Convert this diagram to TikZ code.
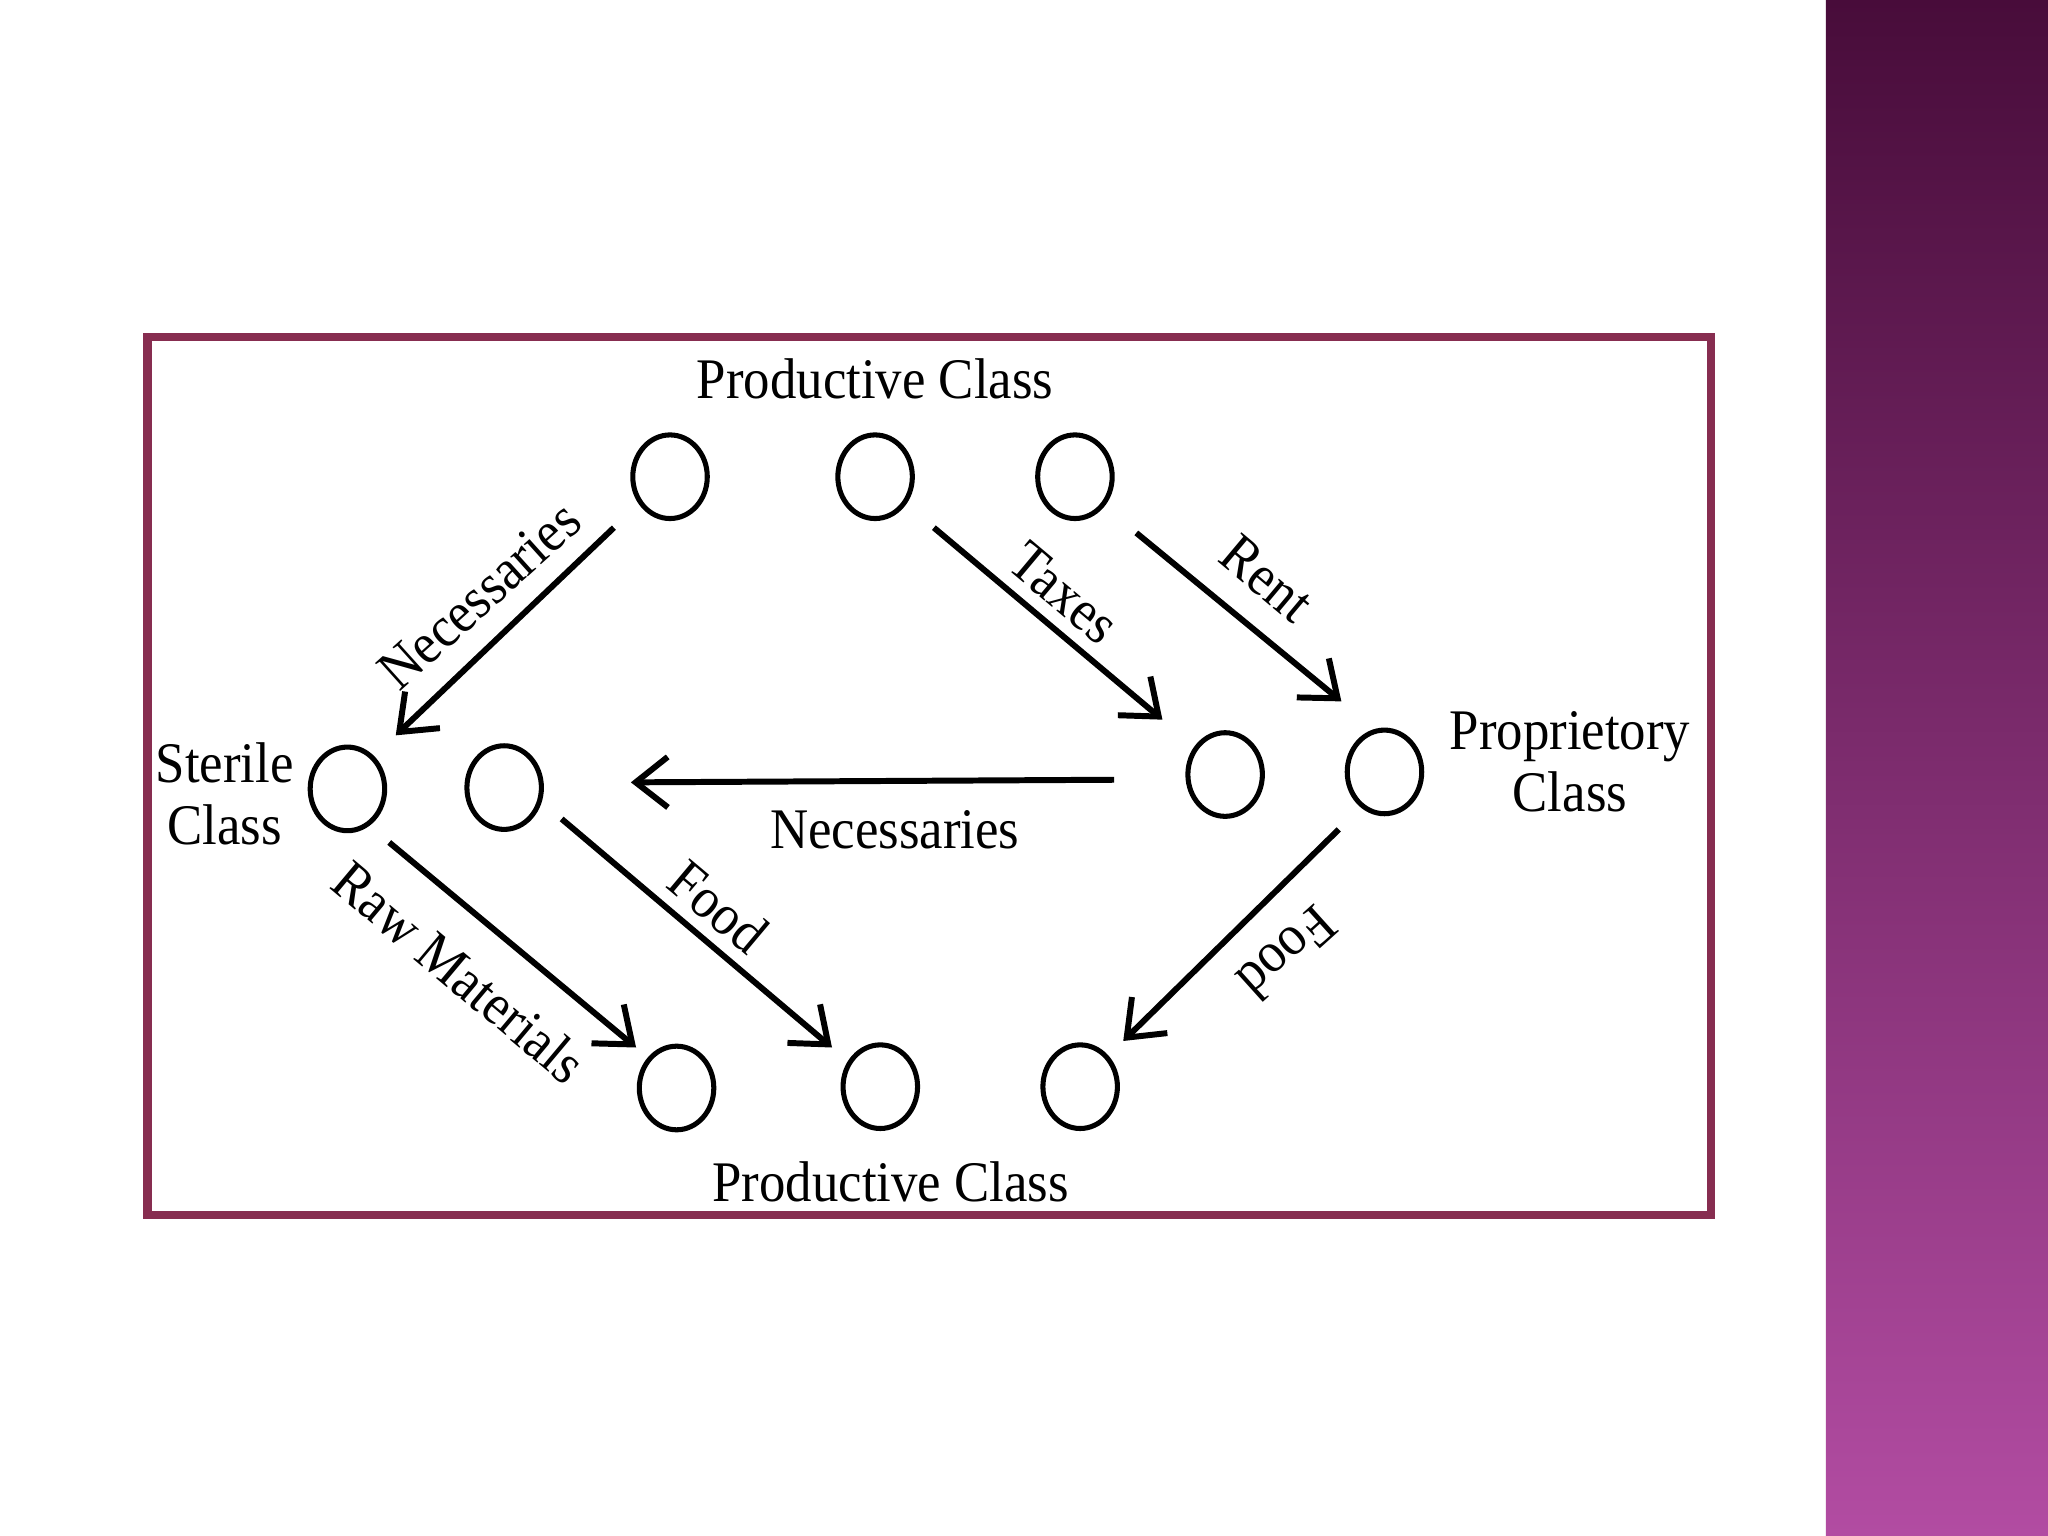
\documentclass[tikz,border=0pt]{standalone}
\usepackage{fontspec}
\setmainfont[FakeStretch=0.92]{Liberation Serif}
\usetikzlibrary{arrows.meta,shapes.geometric}
\begin{document}
\begin{tikzpicture}[x=0.01cm,y=-0.01cm,
  cls/.style={draw,line width=1.1pt,ellipse,minimum width=0.57cm,minimum height=0.64cm,inner sep=0pt},
  flow/.style={line width=1.3pt,-{Straight Barb[length=7pt,width=11pt,line width=1.3pt]}},
  lbl/.style={font=\fontsize{12.5}{13.5}\selectfont,inner sep=1pt,align=center}]
\useasboundingbox (0,0) rectangle (1568,1176);
\fill[white] (0,0) rectangle (1568,1176);
\shade[top color={rgb,255:red,72;green,12;blue,58},bottom color={rgb,255:red,178;green,76;blue,162}] (1398,0) rectangle (1568,1176);
\draw[line width=1.8pt,color={rgb,255:red,135;green,45;blue,80}] (113,258) rectangle (1310,930);
\node[cls] (t1) at (513,365) {};
\node[cls] (t2) at (670,365) {};
\node[cls] (t3) at (823,365) {};
\node[cls] (m1) at (266,604) {};
\node[cls] (m2) at (386,603) {};
\node[cls] (m3) at (938,593) {};
\node[cls] (m4) at (1060,591) {};
\node[cls] (b1) at (518,833) {};
\node[cls] (b2) at (674,832) {};
\node[cls] (b3) at (827,832) {};
\coordinate (a1s) at (470,404); \coordinate (a1e) at (303,563);
\coordinate (a2s) at (715,404); \coordinate (a2e) at (890,551);
\coordinate (a3s) at (870,408); \coordinate (a3e) at (1027,537);
\coordinate (a4s) at (853,597); \coordinate (a4e) at (483,599);
\coordinate (a5s) at (430,627); \coordinate (a5e) at (637,802);
\coordinate (a6s) at (298,645); \coordinate (a6e) at (487,802);
\coordinate (a7s) at (1025,635); \coordinate (a7e) at (860,797);
\draw[flow] (a1s) -- (a1e);
\draw[flow] (a2s) -- (a2e);
\draw[flow] (a3s) -- (a3e);
\draw[flow] (a4s) -- (a4e);
\draw[flow] (a5s) -- (a5e);
\draw[flow] (a6s) -- (a6e);
\draw[flow] (a7s) -- (a7e);
\node[lbl] (lt) at (670,290) {Productive Class};
\node[lbl] (lb) at (682,905) {Productive Class};
\node[lbl] (ls) at (172,608) {Sterile\\Class};
\node[lbl] (lp) at (1202,583) {Proprietory\\Class};
\node[lbl,rotate=42] (n1) at (367,456) {Necessaries};
\node[lbl,rotate=-40] (n2) at (815,454) {Taxes};
\node[lbl,rotate=-40] (n3) at (970,443) {Rent};
\node[lbl] (n4) at (685,635) {Necessaries};
\node[lbl,rotate=-40] (n5) at (550,694) {Food};
\node[lbl,rotate=-40] (n6) at (352,744) {Raw Materials};
\node[lbl,rotate=222] (n7) at (986,730) {Food};
\end{tikzpicture}
\end{document}
